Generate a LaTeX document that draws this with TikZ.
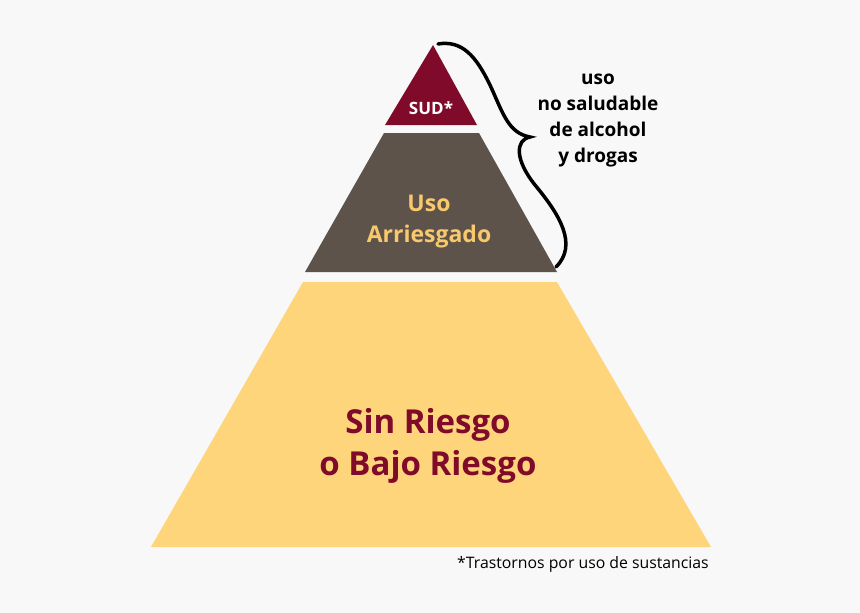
\documentclass[tikz,border=0pt]{standalone}
\usepackage{fontspec}
\setmainfont{Open Sans}
\definecolor{bg}{HTML}{F8F8F8}
\definecolor{yel}{HTML}{FFD57C}
\definecolor{brn}{HTML}{5E534A}
\definecolor{mar}{HTML}{7F0A2A}
\definecolor{ytx}{HTML}{F7C96C}
\begin{document}
\begin{tikzpicture}[x=1pt,y=-1pt,
  lbl/.style={font=\bfseries\fontsize{20}{26}\selectfont,align=center,inner sep=0}]
\useasboundingbox[fill=bg] (0,0) rectangle (860,613);
\fill[mar] (433,45) -- (477,125) -- (385,125) -- cycle;
\fill[brn] (384,133) -- (479,133) -- (557,272) -- (305,272) -- cycle;
\fill[yel] (303,282) -- (557,282) -- (711,547) -- (151,547) -- cycle;
\node[inner sep=0,text=white,font=\bfseries\fontsize{17}{18}\selectfont] (sud) at (431,108) {SUD*};
\node[lbl,text=ytx,font=\bfseries\fontsize{23}{31}\selectfont] (uso) at (429,222) {Uso\\Arriesgado};
\node[lbl,text=mar,font=\bfseries\fontsize{33}{42}\selectfont] (sin) at (428,446) {Sin Riesgo\\o Bajo Riesgo};
\node[lbl,font=\bfseries\fontsize{19}{26}\selectfont] (txt) at (598,120) {uso\\no saludable\\de alcohol\\y drogas};
\node[inner sep=0,font=\fontsize{15.8}{16}\selectfont] (fn) at (583,564) {*Trastornos por uso de sustancias};
\draw[line width=3.5pt,line cap=round] (438,44) .. controls (462,40) and (476,56) .. (490,85)
  .. controls (503,113) and (508,133) .. (530,137)
  .. controls (515,140) and (515,160) .. (535,185)
  .. controls (560,215) and (578,245) .. (556,267);
\end{tikzpicture}
\end{document}
